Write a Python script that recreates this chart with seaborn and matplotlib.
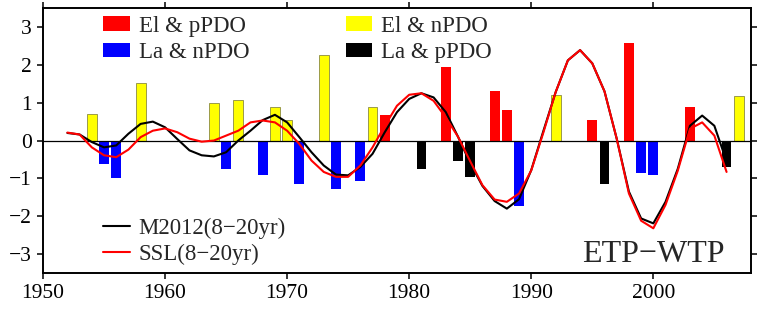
import numpy as np
import pandas as pd
import seaborn as sns
import matplotlib.pyplot as plt
from matplotlib.patches import Patch
from matplotlib.lines import Line2D

# bars: years and values for each ENSO / PDO class
el_ppdo_yr = [1978, 1983, 1987, 1988, 1995, 1998, 2003]
el_ppdo_val = [0.68, 1.95, 1.32, 0.82, 0.55, 2.59, 0.88]
la_npdo_yr = [1955, 1956, 1965, 1968, 1971, 1974, 1976, 1989, 1999, 2000]
la_npdo_val = [-0.61, -0.99, -0.75, -0.91, -1.14, -1.29, -1.08, -1.73, -0.85, -0.92]
el_npdo_yr = [1954, 1958, 1964, 1966, 1969, 1970, 1973, 1977, 1992, 2007]
el_npdo_val = [0.70, 1.52, 1.00, 1.08, 0.89, 0.53, 2.25, 0.88, 1.20, 1.17]
la_ppdo_yr = [1981, 1984, 1985, 1996, 2006]
la_ppdo_val = [-0.75, -0.55, -0.97, -1.15, -0.70]

# filtered lines 1952-2006
line_yr = list(range(1952, 2007))
m2012 = [0.20, 0.16, -0.04, -0.18, -0.13, 0.18, 0.44, 0.50, 0.35, 0.04,
         -0.26, -0.39, -0.42, -0.31, 0.00, 0.26, 0.54, 0.68, 0.48, 0.09,
         -0.31, -0.66, -0.90, -0.92, -0.70, -0.35, 0.22, 0.75, 1.10, 1.25,
         1.14, 0.75, 0.10, -0.60, -1.20, -1.60, -1.80, -1.55, -0.78, 0.26,
         1.28, 2.12, 2.39, 2.04, 1.30, 0.05, -1.35, -2.06, -2.19, -1.62,
         -0.75, 0.39, 0.66, 0.39, -0.55]
ssl = [0.21, 0.16, -0.18, -0.39, -0.44, -0.24, 0.09, 0.26, 0.32, 0.22,
       0.05, -0.03, 0.00, 0.13, 0.26, 0.48, 0.53, 0.48, 0.26, -0.09,
       -0.53, -0.83, -0.96, -0.96, -0.66, -0.18, 0.39, 0.92, 1.21, 1.25,
       1.05, 0.61, 0.10, -0.55, -1.18, -1.56, -1.62, -1.40, -0.79, 0.22,
       1.28, 2.12, 2.39, 2.04, 1.30, 0.05, -1.40, -2.12, -2.32, -1.70,
       -0.80, 0.31, 0.48, 0.13, -0.83]

cats = ['El & pPDO', 'La & nPDO', 'El & nPDO', 'La & pPDO']
colors = {'El & pPDO': '#ff0000', 'La & nPDO': '#0000ff',
          'El & nPDO': '#ffff00', 'La & pPDO': '#000000'}

bars = pd.concat([
    pd.DataFrame({'year': el_ppdo_yr, 'value': el_ppdo_val, 'cat': cats[0]}),
    pd.DataFrame({'year': la_npdo_yr, 'value': la_npdo_val, 'cat': cats[1]}),
    pd.DataFrame({'year': el_npdo_yr, 'value': el_npdo_val, 'cat': cats[2]}),
    pd.DataFrame({'year': la_ppdo_yr, 'value': la_ppdo_val, 'cat': cats[3]}),
])

sns.set_style('ticks')
plt.rcParams['font.family'] = ['Liberation Serif', 'DejaVu Serif']

fig = plt.figure(figsize=(7.8, 3.13), dpi=100)
ax = fig.add_axes([0.0551, 0.128, 0.9077, 0.846])

sns.barplot(data=bars, x='year', y='value', hue='cat', palette=colors,
            native_scale=True, dodge=False, width=0.8, linewidth=0,
            saturation=1, legend=False, ax=ax)
# thin dark outline on the yellow bars
for p in ax.patches:
    fc = p.get_facecolor()
    if fc[0] > 0.9 and fc[1] > 0.9 and fc[2] < 0.1:
        p.set_edgecolor('#8a8a40')
        p.set_linewidth(0.6)

ax.axhline(0, color='black', lw=0.9, zorder=1.5)
sns.lineplot(x=line_yr, y=m2012, color='black', lw=1.5, ax=ax)
sns.lineplot(x=line_yr, y=ssl, color='#ff0000', lw=1.5, ax=ax)

ax.set_xlim(1950, 2008)
ax.set_ylim(-3.5, 3.5)
ax.set_xticks([1950, 1960, 1970, 1980, 1990, 2000])
ax.set_yticks([-3, -2, -1, 0, 1, 2, 3])
ax.set_xlabel('')
ax.set_ylabel('')
ax.tick_params(direction='out', length=4.5, width=1.1, labelsize=15.5,
               top=True, right=True, colors='black')
for s in ax.spines.values():
    s.set_visible(True)
    s.set_linewidth(1.4)
    s.set_color('black')

h1 = [Patch(facecolor=colors[c], edgecolor='none') for c in cats]
leg1 = ax.legend(h1, cats, ncol=2, loc='upper left',
                 bbox_to_anchor=(0.085, 0.972), frameon=False, fontsize=16.5,
                 borderpad=0, borderaxespad=0, handlelength=1.15,
                 handleheight=0.6, handletextpad=0.4, labelspacing=0.25,
                 columnspacing=4.2)
ax.add_artist(leg1)

h2 = [Line2D([], [], color='black', lw=1.5), Line2D([], [], color='#ff0000', lw=1.5)]
ax.legend(h2, ['M2012(8\u221220yr)', 'SSL(8\u221220yr)'], loc='lower left',
          bbox_to_anchor=(0.085, 0.03), frameon=False, fontsize=16.5,
          borderpad=0, borderaxespad=0, handlelength=1.15,
          handletextpad=0.4, labelspacing=0.2)

ax.text(0.962, 0.07, 'ETP\u2212WTP', transform=ax.transAxes, ha='right',
        va='center', fontsize=23)

fig.savefig('out.png', dpi=100)
